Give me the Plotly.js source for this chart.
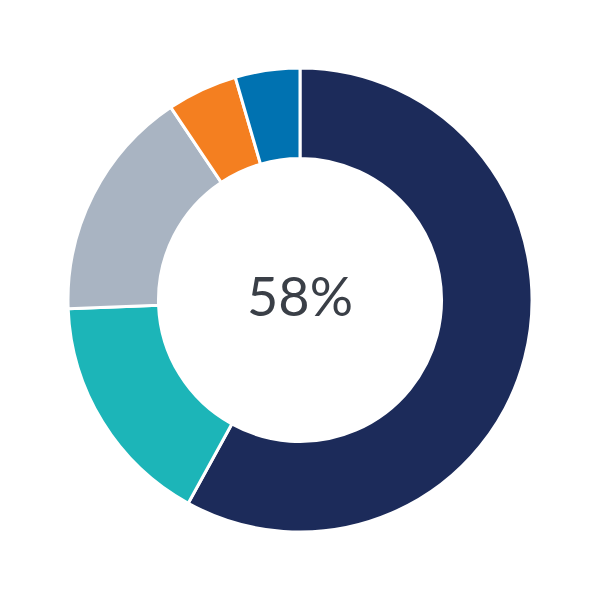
<!DOCTYPE html>
<html>
<head>
<meta charset="utf-8">
<script src="https://cdn.plot.ly/plotly-3.0.1.min.js"></script>
<style>html,body{margin:0;padding:0;background:#fff;}#chart{width:600px;height:600px;}</style>
</head>
<body>
<div id="chart"></div>
<script>
const labels = ["Navy", "Teal", "Gray", "Orange", "Blue"];
const values = [58, 16.4, 16.2, 4.9, 4.5];
const colors = ["#1c2b5a", "#1cb5b8", "#a9b4c2", "#f47f20", "#0072b1"];
const centerText = "58%";

Plotly.newPlot("chart", [{
  type: "pie",
  labels: labels,
  values: values,
  hole: 0.61,
  sort: false,
  direction: "clockwise",
  rotation: 0,
  textinfo: "none",
  hoverinfo: "none",
  marker: {colors: colors, line: {color: "#ffffff", width: 3}}
}], {
  width: 600, height: 600,
  margin: {l: 68, r: 68, t: 68, b: 68},
  showlegend: false,
  paper_bgcolor: "#ffffff",
  annotations: [{
    text: centerText, x: 0.5, y: 0.5, xref: "paper", yref: "paper",
    yshift: 5,
    showarrow: false,
    font: {family: "Lato, sans-serif", size: 54, color: "#3a3f47"}
  }]
}, {staticPlot: true, displayModeBar: false});
</script>
</body>
</html>
